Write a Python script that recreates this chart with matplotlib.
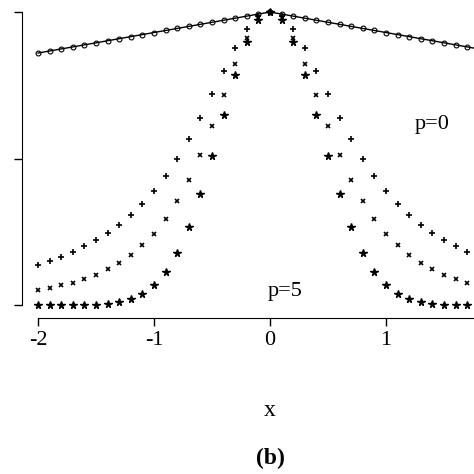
import matplotlib
matplotlib.use("Agg")
import matplotlib.pyplot as plt

plt.rcParams['font.family'] = ['Liberation Serif', 'DejaVu Serif']

x = [round(-2 + 0.1 * i, 1) for i in range(41)]
half_a = [1, .993, .986, .979, .972, .965, .958, .951, .944, .937, .93, .923, .916, .909, .902, .895, .888, .881, .874, .867, .86]
half_b = [1, .985, .941, .877, .8, .719, .64, .566, .5, .441, .39, .346, .308, .275, .246, .221, .2, .181, .165, .151, .138]
half_c = [1, .978, .913, .821, .716, .61, .512, .426, .354, .293, .244, .204, .171, .144, .122, .104, .089, .077, .067, .059, .051]
half_d = [1, .973, .898, .784, .649, .509, .378, .266, .177, .112, .067, .038, .02, .01, .005, .002, .001, 0, 0, 0, 0]
p0 = half_a[:0:-1] + half_a
p1 = half_b[:0:-1] + half_b
p2 = half_c[:0:-1] + half_c
p5 = half_d[:0:-1] + half_d

fig = plt.figure(figsize=(4.74, 4.74), dpi=100)
ax = fig.add_axes([22/474, 1 - 318/474, (474 - 22)/474, 318/474])
ax.plot(x, p0, color='k', lw=1, marker='o', mfc='none', ms=3.5, mew=0.8)
ax.plot(x, p1, color='k', lw=0, marker='+', ms=4.5, mew=1.2)
ax.plot(x, p2, color='k', lw=0, marker='x', ms=3.5, mew=1.2)
ax.plot(x, p5, color='k', lw=0, marker='*', ms=5.5, mew=1)
ax.set_xlim(-2.138, 1.759)
ax.set_ylim(-0.044, 1.041)
for s in ['top', 'right']:
    ax.spines[s].set_visible(False)
ax.spines['left'].set_bounds(0, 1)
ax.spines['bottom'].set_bounds(-2, 1.759)
ax.set_xticks([-2, -1, 0, 1])
ax.set_xticklabels(['-2', '-1', '0', '1'], fontsize=16)
ax.set_yticks([0, 0.5, 1])
ax.set_yticklabels([])
ax.tick_params(direction='out', length=6, width=1)
ax.text(1.25, 0.6, 'p=0', fontsize=16, clip_on=True)
ax.text(-0.02, 0.03, 'p=5', fontsize=16)
fig.text(270/474, 1 - 410/474, 'x', fontsize=17, ha='center', va='center')
fig.text(270/474, 1 - 458/474, '(b)', fontsize=17, fontweight='bold', ha='center', va='center')
fig.savefig('out.png', dpi=100)
